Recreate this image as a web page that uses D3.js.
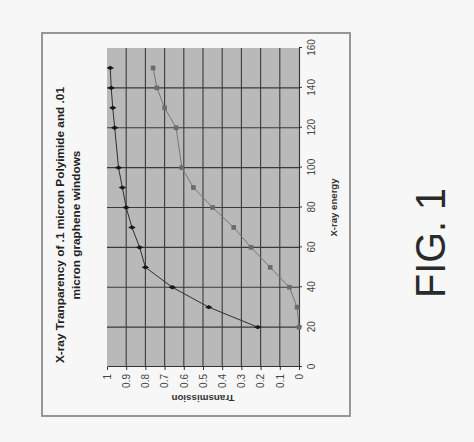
<!DOCTYPE html>
<html><head><meta charset="utf-8">
<script src="https://cdn.jsdelivr.net/npm/d3@7"></script>
<style>html,body{margin:0;padding:0;background:#f7f7f7;}svg{display:block;}</style>
</head><body>
<script>
const energy = [20, 30, 40, 50, 60, 70, 80, 90, 100, 120, 130, 140, 150];
const seriesDark = [0.215, 0.47, 0.66, 0.80, 0.83, 0.87, 0.90, 0.92, 0.94, 0.96, 0.97, 0.978, 0.983];
const seriesGray = [0.0, 0.01, 0.05, 0.15, 0.25, 0.34, 0.45, 0.55, 0.61, 0.64, 0.70, 0.74, 0.76];
const energyTicks = [0, 20, 40, 60, 80, 100, 120, 140, 160];
const transTicks = [0, 0.1, 0.2, 0.3, 0.4, 0.5, 0.6, 0.7, 0.8, 0.9, 1];
const transLabels = ["0", "0.1", "0.2", "0.3", "0.4", "0.5", "0.6", "0.7", "0.8", "0.9", "1"];
const titleLines = ["X-ray Tranparency of .1 micron Polyimide and .01", "micron graphene windows"];
const xTitle = "X-ray energy";
const yTitle = "Transmission";
const figLabel = "FIG. 1";

const W = 474, H = 442;
const FONT = "'Liberation Sans', Arial, sans-serif";
const svg = d3.select("body").append("svg").attr("width", W).attr("height", H);
svg.append("rect").attr("width", W).attr("height", H).attr("fill", "#f7f7f7");

// whole figure is rotated a quarter turn counter-clockwise
const g = svg.append("g").attr("transform", `translate(0,${H}) rotate(-90)`);

// outer chart frame
g.append("rect").attr("x", 26).attr("y", 42).attr("width", 383).attr("height", 308)
  .attr("fill", "none").attr("stroke", "#8c8c8c").attr("stroke-width", 1.8);

const x = d3.scaleLinear().domain([0, 160]).range([75, 394]);
const y = d3.scaleLinear().domain([0, 1]).range([299, 107]);

// plot area
g.append("rect").attr("x", x(0)).attr("y", y(1)).attr("width", x(160) - x(0)).attr("height", y(0) - y(1))
  .attr("fill", "#b9b9b9");

// gridlines
g.append("g").selectAll("line").data(energyTicks.filter(d => d > 0 && d < 160)).join("line")
  .attr("x1", d => x(d)).attr("x2", d => x(d)).attr("y1", y(0)).attr("y2", y(1))
  .attr("stroke", "#3a3a3a").attr("stroke-width", 1.1);
g.append("g").selectAll("line").data(transTicks.filter(d => d > 0 && d < 1)).join("line")
  .attr("y1", d => y(d)).attr("y2", d => y(d)).attr("x1", x(0)).attr("x2", x(160))
  .attr("stroke", "#3a3a3a").attr("stroke-width", 1.1);

// axes
const xAxis = g.append("g").attr("transform", `translate(0,${y(0)})`)
  .call(d3.axisBottom(x).tickValues(energyTicks).tickSize(3).tickSizeOuter(0).tickPadding(6).tickFormat(d3.format("d")));
const yAxis = g.append("g").attr("transform", `translate(${x(0)},0)`)
  .call(d3.axisLeft(y).tickValues(transTicks).tickSize(3).tickSizeOuter(0).tickPadding(4)
    .tickFormat((d, i) => transLabels[i]));
[xAxis, yAxis].forEach(a => {
  a.select(".domain").attr("stroke", "#333").attr("stroke-width", 1.1);
  a.selectAll(".tick line").attr("stroke", "#333");
  a.selectAll("text").attr("font-family", FONT).attr("font-size", 10).attr("fill", "#444");
});

// series
const ptsDark = energy.map((e, i) => [e, seriesDark[i]]);
const ptsGray = energy.map((e, i) => [e, seriesGray[i]]);
const line = d3.line().x(d => x(d[0])).y(d => y(d[1]));
g.append("path").datum(ptsGray).attr("d", line).attr("fill", "none").attr("stroke", "#767676").attr("stroke-width", 1);
g.append("path").datum(ptsDark).attr("d", line).attr("fill", "none").attr("stroke", "#2e2e2e").attr("stroke-width", 1);
g.append("g").selectAll("path").data(ptsGray).join("path")
  .attr("transform", d => `translate(${x(d[0])},${y(d[1])})`)
  .attr("d", d3.symbol(d3.symbolSquare, 22)).attr("fill", "#6c6c6c");
g.append("g").selectAll("path").data(ptsDark).join("path")
  .attr("transform", d => `translate(${x(d[0])},${y(d[1])})`)
  .attr("d", d3.symbol(d3.symbolDiamond, 16)).attr("fill", "#161616");

// titles
g.append("g").selectAll("text").data(titleLines).join("text")
  .attr("x", 217).attr("y", (d, i) => 64 + i * 16)
  .attr("text-anchor", "middle").attr("font-family", FONT).attr("font-weight", "bold")
  .attr("font-size", 11.8).attr("fill", "#222").text(d => d);
g.append("text").attr("x", (x(0) + x(160)) / 2).attr("y", 337)
  .attr("text-anchor", "middle").attr("font-family", FONT).attr("font-weight", "bold")
  .attr("font-size", 9.6).attr("fill", "#333").text(xTitle);
g.append("text").attr("transform", `translate(47,${(y(0) + y(1)) / 2}) rotate(-90)`)
  .attr("text-anchor", "middle").attr("font-family", FONT).attr("font-weight", "bold")
  .attr("font-size", 9.8).attr("fill", "#333").text(yTitle);

// figure label
g.append("text").attr("x", 199).attr("y", 445)
  .attr("text-anchor", "middle").attr("font-family", FONT)
  .attr("font-size", 43).attr("fill", "#2a2a2a")
  .attr("textLength", 110).attr("lengthAdjust", "spacingAndGlyphs").text(figLabel);
</script>
</body></html>
